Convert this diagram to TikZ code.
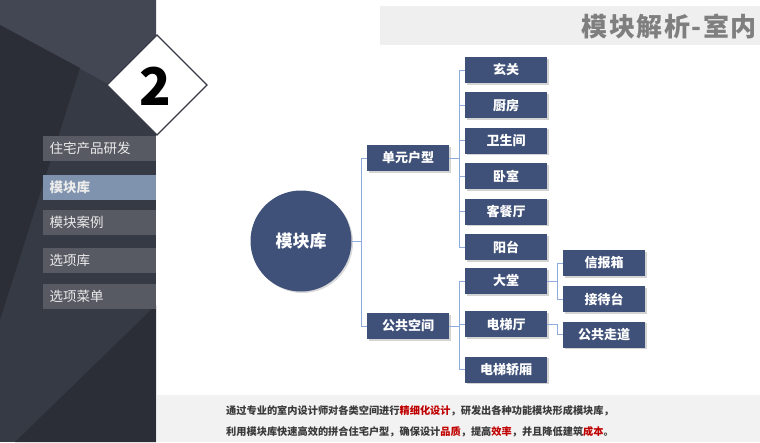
\documentclass[tikz,border=0pt]{standalone}
\usepackage{fontspec}
\setmainfont{Noto Sans CJK SC}
\usetikzlibrary{positioning,shadows}
\definecolor{navy}{HTML}{3F5179}
\definecolor{wire}{HTML}{8FAADC}
\definecolor{slate}{HTML}{363A44}
\definecolor{slatetop}{HTML}{434754}
\definecolor{slatedeep}{HTML}{2B2E36}
\definecolor{menugray}{HTML}{575A63}
\definecolor{menublue}{HTML}{7F93AE}
\definecolor{titlegray}{HTML}{EFEFEF}
\definecolor{titletext}{HTML}{7F7F7F}
\definecolor{bandgray}{HTML}{F2F2F2}
\definecolor{bodytext}{HTML}{3A3A3A}
\definecolor{keyred}{HTML}{C00000}

\begin{document}
\begin{tikzpicture}[
  x=1pt,y=-1pt,
  room/.style={fill=navy,text=white,font=\fontsize{13}{15}\selectfont\bfseries,
               minimum width=82pt,minimum height=26pt,inner sep=0pt,
               drop shadow={shadow xshift=1.5pt,shadow yshift=-1.5pt,opacity=.35}},
  hubnode/.style={circle,fill=navy,text=white,minimum size=101pt,inner sep=0pt,
                  font=\fontsize{17}{19}\selectfont\bfseries,
                  drop shadow={shadow xshift=1.5pt,shadow yshift=-1.5pt,opacity=.3}},
  menuitem/.style={fill=menugray,text=white!92!black,anchor=west,
                   minimum width=113pt,minimum height=25pt,inner ysep=0pt,
                   inner xsep=6.5pt,text width=100pt,align=left,
                   font=\fontsize{13.5}{15}\selectfont},
  link/.style={draw=wire,line width=1pt},
]
\useasboundingbox (0,0) rectangle (760,442);
\clip (0,0) rectangle (760,442);

% Sidebar
\fill[slate] (0,0) rectangle (156,442);
\fill[slatetop] (0,0) -- (156,0) -- (156,110) -- (0,25) -- cycle;
\fill[slatedeep] (0,25) -- (80,68) -- (0,320) -- cycle;
\fill[slatedeep] (156,305) -- (156,442) -- (15,442) -- cycle;

% Chapter badge
\filldraw[fill=white,draw=slate,line width=1.2pt]
  (107,85) -- (157,35) -- (207,85) -- (157,135) -- cycle;
\node[font=\fontsize{52}{52}\selectfont\bfseries,text=black] (badge) at (155,86) {2};

% Menu
\node[menuitem] (m1) at (43,148) {住宅产品研发};
\node[menuitem,fill=menublue,font=\fontsize{13.5}{15}\selectfont\bfseries] (m2) at (43,187) {模块库};
\node[menuitem] (m3) at (43,222.5) {模块案例};
\node[menuitem] (m4) at (43,260) {选项库};
\node[menuitem] (m5) at (43,296) {选项菜单};

% Title bar
\fill[titlegray] (380,6) rectangle (760,45);
\node[anchor=east,text=titletext,inner sep=0pt,
      font=\fontsize{26}{28}\selectfont\bfseries\addfontfeature{LetterSpace=6}]
  (title) at (757,26) {模块解析-室内};

% Tree
\node[hubnode] (hub) at (301,241) {模块库};
\node[room] (unit) at (408,158) {单元户型};
\node[room] (pub) at (408,326) {公共空间};

\node[room] (xg) at (506,70) {玄关};
\node[room,below=9pt of xg] (cf) {厨房};
\node[room,below=9pt of cf] (wsj) {卫生间};
\node[room,below=9pt of wsj] (ws) {卧室};
\node[room,below=9pt of ws] (kct) {客餐厅};
\node[room,below=9pt of kct] (yt) {阳台};

\node[room] (dt) at (506,281) {大堂};
\node[room,below=17pt of dt] (dtt) {电梯厅};
\node[room,below=19pt of dtt] (dtjx) {电梯轿厢};

\node[room] (xbx) at (604,263) {信报箱};
\node[room,below=10pt of xbx] (jdt) {接待台};
\node[room,below=9pt of jdt] (ggzd) {公共走道};

% Connectors
\draw[link] (hub.east) -- ++(10,0) coordinate (hbus);
\foreach \n in {unit,pub} \draw[link] (hbus) |- (\n.west);
\draw[link] (unit.east) -- ++(10,0) coordinate (ubus);
\foreach \n in {xg,cf,wsj,ws,kct,yt} \draw[link] (ubus) |- (\n.west);
\draw[link] (pub.east) -- ++(10,0) coordinate (pbus);
\foreach \n in {dt,dtt,dtjx} \draw[link] (pbus) |- (\n.west);
\draw[link] (dt.east) -- ++(10,0) coordinate (dbus);
\foreach \n in {xbx,jdt} \draw[link] (dbus) |- (\n.west);
\draw[link] (dtt.east) -- ++(10,0) coordinate (ebus);
\draw[link] (ebus) |- (ggzd.west);

% Summary band
\fill[bandgray] (157,395) rectangle (760,442);
\node[anchor=west,inner sep=0pt,text=bodytext,font=\fontsize{10.2}{12}\selectfont\bfseries]
  (line1) at (226,411)
  {通过专业的室内设计师对各类空间进行\textcolor{keyred}{精细化设计}，研发出各种功能模块形成模块库，};
\node[anchor=west,inner sep=0pt,text=bodytext,font=\fontsize{10.2}{12}\selectfont\bfseries]
  (line2) at (226,432)
  {利用模块库快速高效的拼合住宅户型，确保设计\textcolor{keyred}{品质}，提高\textcolor{keyred}{效率}，并且降低建筑\textcolor{keyred}{成本}。};

\end{tikzpicture}
\end{document}
